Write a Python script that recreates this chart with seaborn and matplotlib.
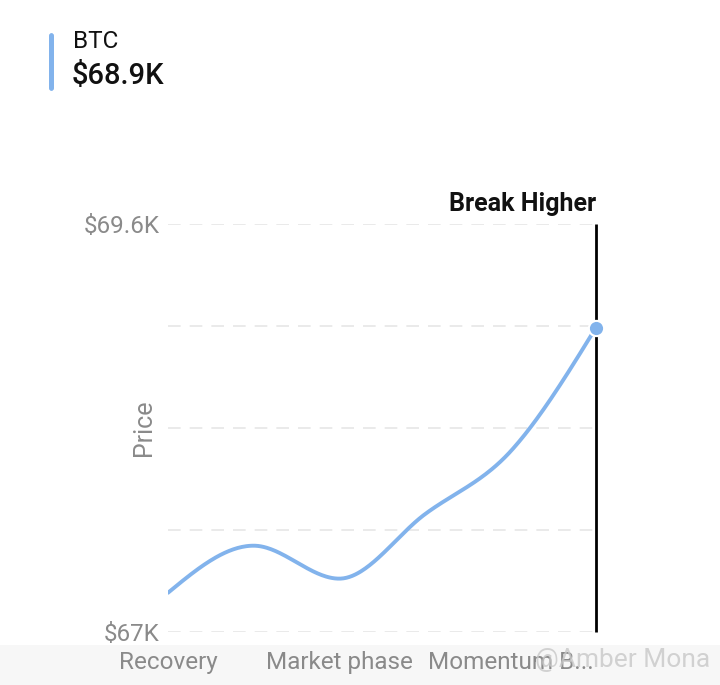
import numpy as np
import pandas as pd
import matplotlib.pyplot as plt
import matplotlib.patches as mpatches
import seaborn as sns

# --- data ---
phases = ["Recovery", "p2", "Market phase", "p4", "Momentum B...", "Break Higher"]
price_k = [67.25, 67.55, 67.34, 67.75, 68.15, 68.94]
tick_labels = ["Recovery", "", "Market phase", "", "Momentum B...", ""]
y_ticks = [67.0, 67.65, 68.3, 68.95, 69.6]
y_labels = ["$67K", "", "", "", "$69.6K"]
header_symbol = "BTC"
header_value = "$68.9K"
highlight = "Break Higher"

BLUE = "#82b3ec"
GREY = "#8a8a8a"

sns.set_theme(style="white")
plt.rcParams["font.family"] = ["Roboto", "DejaVu Sans"]


def monotone_x(x, y, n=60):
    # d3 curveMonotoneX style smoothing (Fritsch-Carlson slopes)
    x = np.asarray(x, float)
    y = np.asarray(y, float)
    h = np.diff(x)
    s = np.diff(y) / h
    m = np.zeros_like(y)
    for i in range(1, len(y) - 1):
        if s[i - 1] * s[i] <= 0:
            m[i] = 0
        else:
            p = (s[i - 1] * h[i] + s[i] * h[i - 1]) / (h[i - 1] + h[i])
            m[i] = np.sign(s[i - 1]) * min(abs(s[i - 1]), abs(s[i]), 0.5 * abs(p)) * 2
    m[0] = (3 * s[0] - m[1]) / 2
    m[-1] = (3 * s[-1] - m[-2]) / 2
    xs, ys = [], []
    for i in range(len(h)):
        t = np.linspace(0, 1, n)
        h00 = 2 * t**3 - 3 * t**2 + 1
        h10 = t**3 - 2 * t**2 + t
        h01 = -2 * t**3 + 3 * t**2
        h11 = t**3 - t**2
        xs.append(x[i] + t * h[i])
        ys.append(h00 * y[i] + h10 * h[i] * m[i] + h01 * y[i + 1] + h11 * h[i] * m[i + 1])
    return np.concatenate(xs), np.concatenate(ys)


df = pd.DataFrame({"pos": np.arange(len(phases)), "price": price_k, "phase": phases})
sx, sy = monotone_x(df["pos"], df["price"])
smooth = pd.DataFrame({"pos": sx, "price": sy})

fig = plt.figure(figsize=(7.2, 6.85), dpi=100)
fig.patch.set_facecolor("white")
ax = fig.add_axes([168 / 720, 1 - 632 / 685, 428 / 720, 408 / 685])

# faint band at the bottom
fig.add_artist(mpatches.Rectangle((0, 0), 1, 40 / 685, transform=fig.transFigure,
                                  facecolor="#f7f7f7", edgecolor="none", zorder=-1))

sns.lineplot(data=smooth, x="pos", y="price", ax=ax, color=BLUE, lw=2.8,
             sort=False, zorder=3)

last = df.iloc[-1]
ax.plot([last["pos"], last["pos"]], [67.0, 69.6], color="black", lw=2.0,
        zorder=2, solid_capstyle="butt", clip_on=False)
ax.plot(last["pos"], last["price"], "o", ms=11, color=BLUE, mec="white",
        mew=1.5, zorder=4, clip_on=False)
ax.text(last["pos"], 69.6 + 0.085, highlight, ha="right", va="baseline",
        fontsize=18, fontweight="bold", color="#111111")

ax.set_xlim(0, len(phases) - 1)
ax.set_ylim(67.0, 69.6)
ax.set_yticks(y_ticks)
ax.set_yticklabels(y_labels)
ax.set_xticks(df["pos"])
ax.set_xticklabels(tick_labels)
ax.tick_params(axis="both", length=0, labelsize=17.5, labelcolor=GREY)
ax.tick_params(axis="y", pad=6)
ax.tick_params(axis="x", pad=14)
ax.grid(axis="y", color="#e8e8e8", lw=1.3, ls=(0, (7, 5)))
ax.grid(axis="x", visible=False)
ax.set_xlabel("")
ax.set_ylabel("Price", fontsize=18, color=GREY)
ax.yaxis.set_label_coords(-0.028, 0.5)
for sp in ax.spines.values():
    sp.set_visible(False)
ax.patch.set_alpha(0)

# header
fig.add_artist(mpatches.FancyBboxPatch((49 / 720, 1 - 91 / 685), 5 / 720, 58 / 685,
                                       boxstyle="round,pad=0,rounding_size=0.004",
                                       transform=fig.transFigure,
                                       facecolor=BLUE, edgecolor="none"))
fig.text(73 / 720, 1 - 41 / 685, header_symbol, fontsize=17.5, color="#111111",
         va="center", ha="left")
fig.text(72 / 720, 1 - 76 / 685, header_value, fontsize=21, fontweight="medium",
         color="#111111", va="center", ha="left")

# watermark
fig.text(535 / 720, 1 - 660 / 685, "@Amber Mona", fontsize=19, color="#c8c8c8",
         alpha=0.8, ha="left", va="center")

fig.savefig("out.png", dpi=100)
